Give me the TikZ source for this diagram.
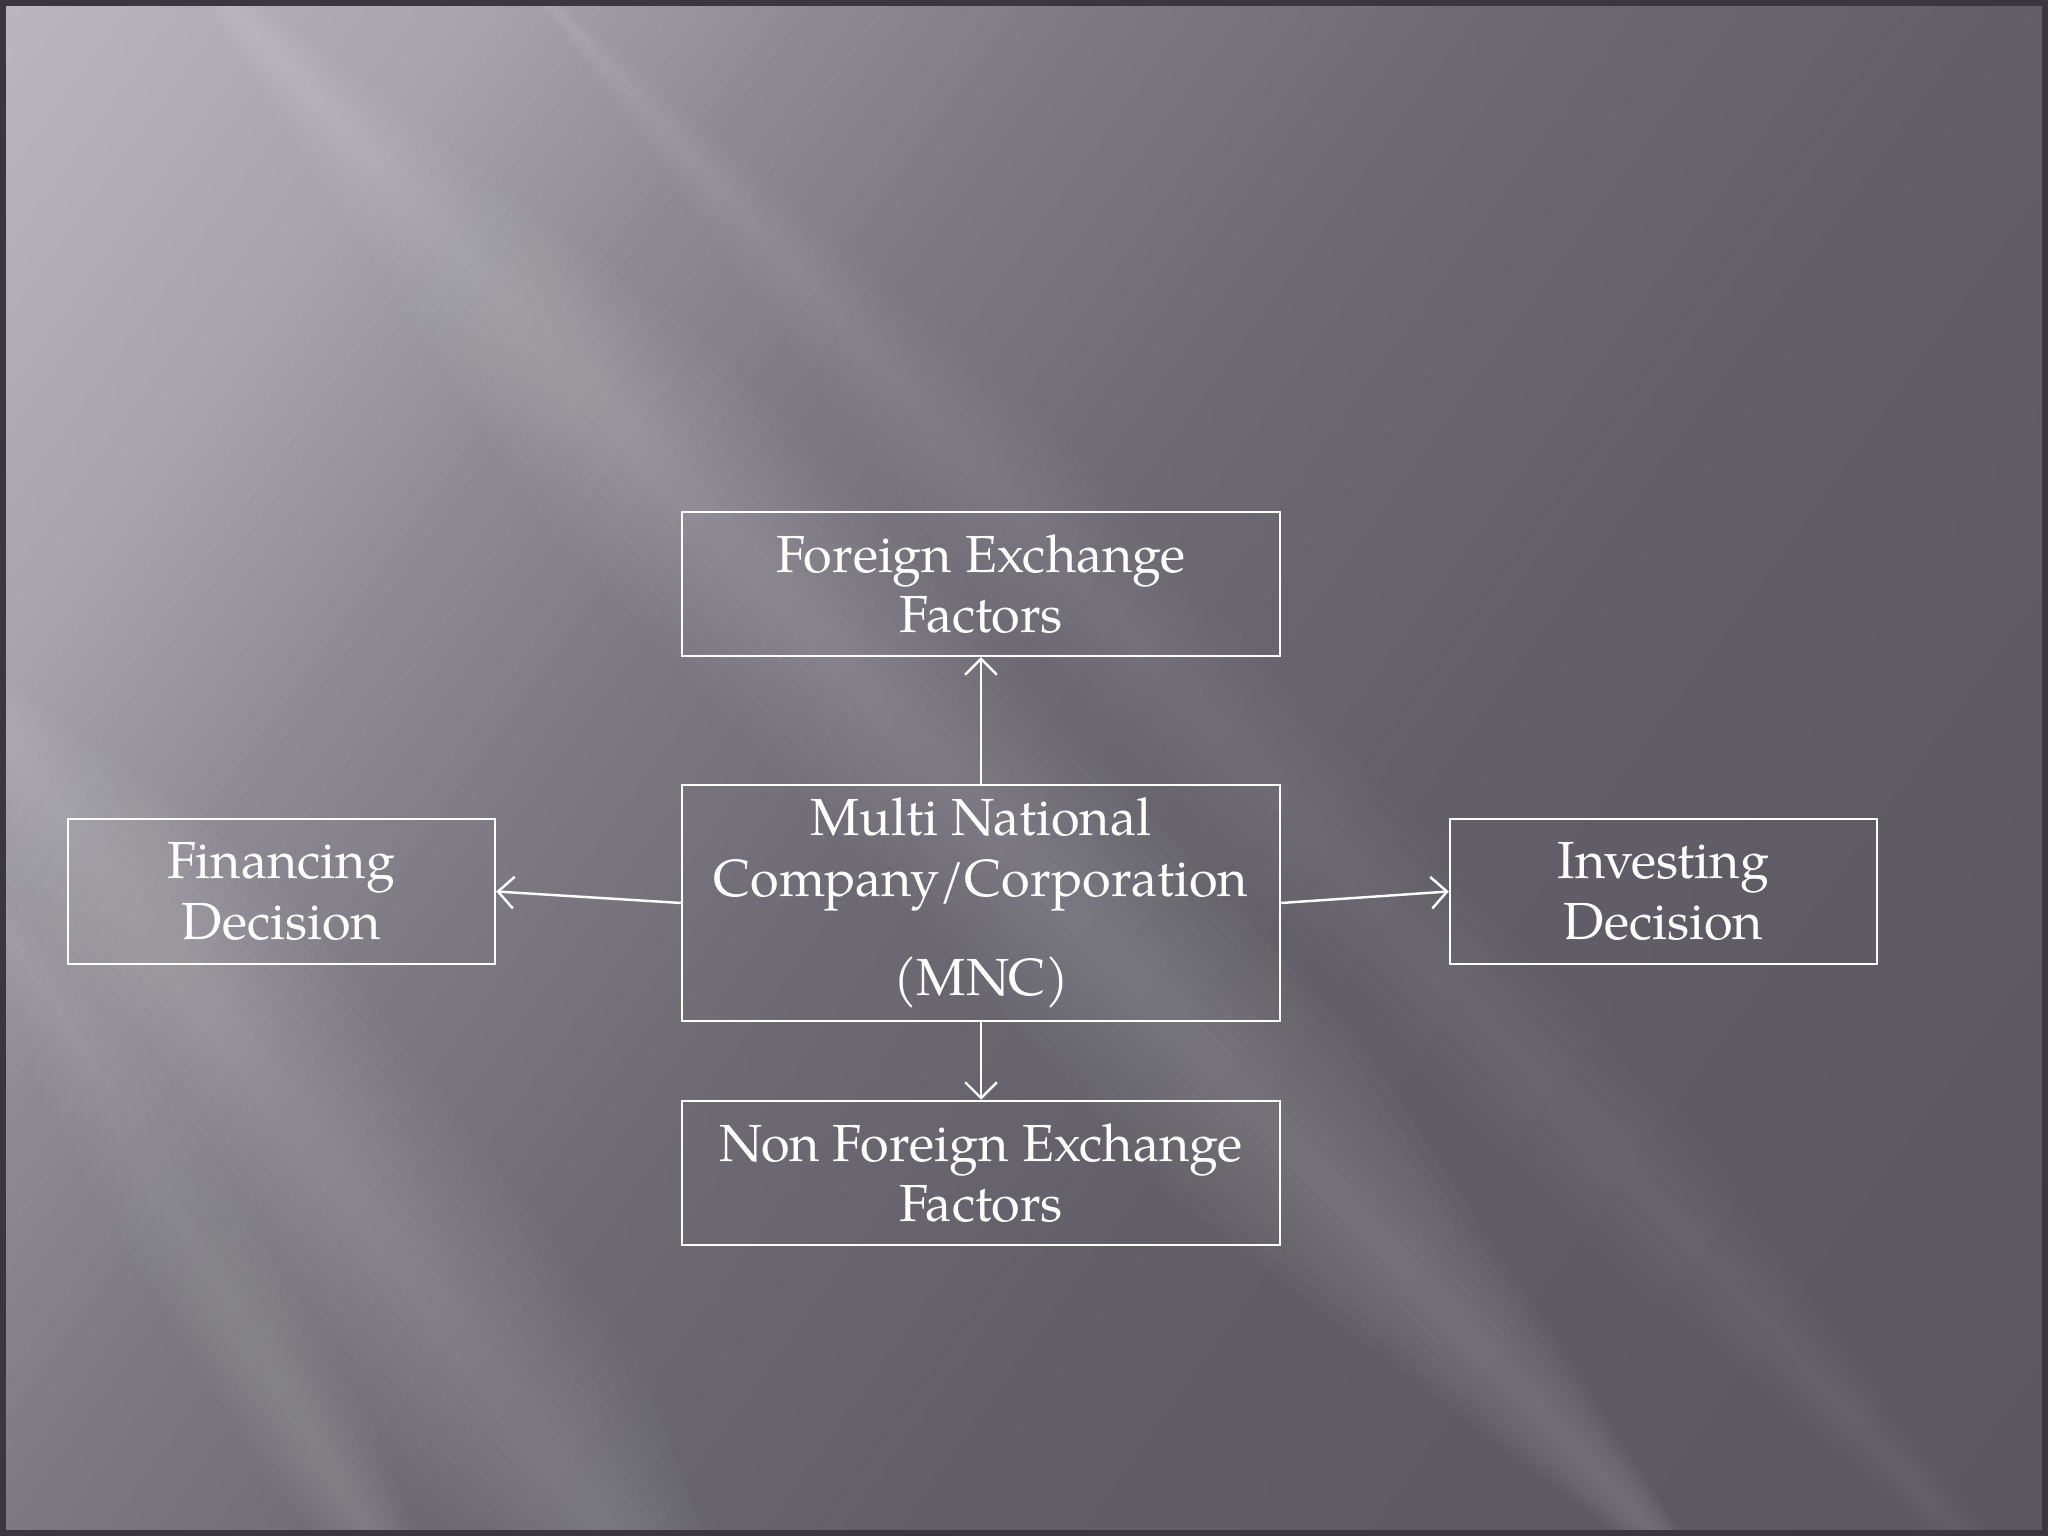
\documentclass[tikz,border=0pt]{standalone}
\usepackage{fontspec}
\setmainfont{texgyrepagella}[Extension=.otf, UprightFont=*-regular, BoldFont=*-bold, ItalicFont=*-italic, BoldItalicFont=*-bolditalic]
\usetikzlibrary{calc,arrows.meta}
\definecolor{frameC}{HTML}{3A383E}
\newcommand{\rayband}[4]{%
  \coordinate (ra) at #1; \coordinate (rb) at #2;
  \coordinate (rmA) at ($(ra)!0.3!(rb)$);
  \coordinate (rmB) at ($(ra)!0.7!(rb)$);
  \foreach \ff in {0.15,0.27,0.39,0.51,0.63,0.75,0.87,1}{
    \fill[white, opacity=#4] (ra) -- ($(rmA)!\ff*#3!90:(rb)$) -- ($(rmB)!\ff*#3!90:(rb)$) -- (rb)
      -- ($(rmB)!\ff*#3!-90:(rb)$) -- ($(rmA)!\ff*#3!-90:(rb)$) -- cycle;
  }}
\begin{document}
\begin{tikzpicture}[
  box/.style={draw=white, line width=0.7pt, minimum width=5.98cm, minimum height=1.44cm,
    inner sep=0pt, text=white, align=center, font=\fontsize{14.85}{17.2}\selectfont},
  sidebox/.style={box, minimum width=4.27cm, minimum height=1.45cm},
  conn/.style={draw=white, line width=0.7pt, -{Straight Barb[length=4.5pt,width=9pt]}}]
\useasboundingbox (0,0) rectangle (20.48,15.36);
\begin{scope}
  \clip (0,0) rectangle (20.48,15.36);
  % diagonal background gradient drawn as thin strips
  \foreach \sA/\sB/\LA/\LB in {0/0.16/183/164, 0.16/0.25/164/141, 0.25/0.35/141/122, 0.35/0.48/122/106, 0.48/0.65/106/95, 0.65/1.0/95/87}{
    \pgfmathtruncatemacro\nn{max(1,round((\sB-\sA)*120))}
    \foreach \j in {1,...,\nn}{
      \pgfmathsetmacro\sa{\sA+(\j-1)*(\sB-\sA)/\nn}
      \pgfmathsetmacro\sb{\sA+\j*(\sB-\sA)/\nn+0.004}
      \pgfmathtruncatemacro\lg{\LA+(\LB-\LA)*(\j-0.5)/\nn}
      \pgfmathtruncatemacro\lr{\lg+3}
      \pgfmathtruncatemacro\lb{\lg+9}
      \definecolor{stripc}{RGB}{\lr,\lg,\lb}
      \fill[stripc] ({20.48*\sa-11},{-15.36*\sa}) -- ({20.48*\sa+11},{30.72-15.36*\sa})
        -- ({20.48*\sb+11},{30.72-15.36*\sb}) -- ({20.48*\sb-11},{-15.36*\sb}) -- cycle;
    }
  }
  \rayband{(1.5,16.16)}{(17.5,-1.0)}{1.2cm}{0.018}
  \rayband{(-1,9.36)}{(8,-2.5)}{1.3cm}{0.018}
  \rayband{(5,15.86)}{(21,-1.5)}{0.8cm}{0.010}
  \rayband{(-0.5,7.0)}{(4.8,-1.8)}{0.6cm}{0.016}
\end{scope}
\draw[frameC, line width=0.06cm] (0.03,0.03) rectangle (20.45,15.33);

\node[box] (fx) at (9.81,9.52) {Foreign Exchange\\Factors};
\node[box, minimum height=2.36cm] (mnc) at (9.81,6.33) {Multi National\\Company/Corporation\\[11pt](MNC)};
\node[sidebox] (fin) at (2.815,6.445) {Financing\\Decision};
\node[sidebox] (inv) at (16.635,6.445) {Investing\\Decision};
\node[box] (nfx) at (9.81,3.63) {Non Foreign Exchange\\Factors};

\draw[conn] (mnc.north) -- (fx.south);
\draw[conn] (mnc.south) -- (nfx.north);
\draw[conn] (mnc.west) -- (fin.east);
\draw[conn] (mnc.east) -- (inv.west);
\end{tikzpicture}
\end{document}
